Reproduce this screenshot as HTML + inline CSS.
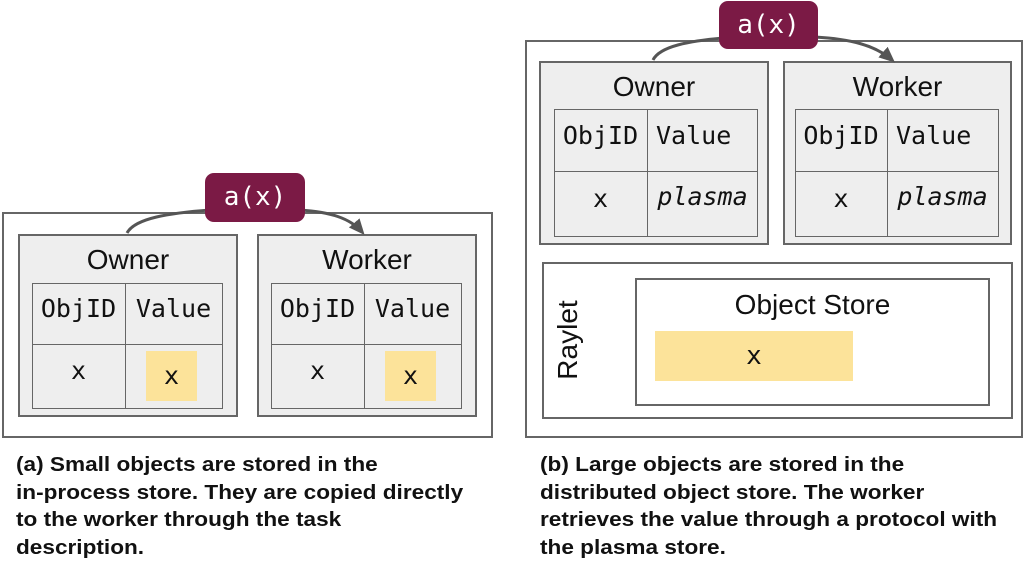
<!DOCTYPE html><html><head><style>
body{margin:0;width:1024px;height:562px;background:#fff;position:relative;overflow:hidden;font-family:"Liberation Sans",sans-serif}
.b{position:absolute;box-sizing:border-box;border:2px solid #666}
.g{background:#eee}
.t{position:absolute;text-align:center;font-size:28px;color:#111}
.m{font-family:"DejaVu Sans Mono","Liberation Mono",monospace;font-size:25px}
.pill{position:absolute;background:#7b1a45;border-radius:9px;color:#fff;font-family:"DejaVu Sans Mono",monospace;font-size:26px;text-align:center}
.y{position:absolute;background:#fce39a}
.cap{position:absolute;font-weight:bold;font-size:20px;line-height:27.5px;color:#111;transform:scaleX(1.13);transform-origin:0 0;white-space:nowrap}
</style></head><body>
<svg style="position:absolute;left:0;top:0" width="1024" height="562">
<defs><marker id="a" markerWidth="16" markerHeight="14" refX="12" refY="7" orient="auto" markerUnits="userSpaceOnUse"><path d="M0,0 L16,7 L0,14z" fill="#555"/></marker></defs>
</svg>
<!-- left -->
<div class="b" style="left:2px;top:212px;width:491px;height:226px"></div>
<div class="b g" style="left:18px;top:234px;width:220px;height:183px"></div>
<div class="b g" style="left:257px;top:234px;width:220px;height:183px"></div>
<div class="t" style="left:18px;top:244px;width:220px">Owner</div>
<div class="t" style="left:257px;top:244px;width:220px">Worker</div>
<div class="b" style="left:32px;top:283px;width:191px;height:126px;border-width:1px"></div>
<div class="b" style="left:32px;top:344px;width:191px;height:1px;border-width:1px 0 0"></div>
<div class="b" style="left:125px;top:283px;width:1px;height:126px;border-width:0 0 0 1px"></div>
<div class="b" style="left:271px;top:283px;width:191px;height:126px;border-width:1px"></div>
<div class="b" style="left:271px;top:344px;width:191px;height:1px;border-width:1px 0 0"></div>
<div class="b" style="left:364px;top:283px;width:1px;height:126px;border-width:0 0 0 1px"></div>
<div class="y" style="left:146px;top:351px;width:51px;height:50px"></div>
<div class="y" style="left:385px;top:351px;width:51px;height:50px"></div>
<div class="t m" style="left:32px;top:294px;width:93px">ObjID</div>
<div class="t m" style="left:125px;top:294px;width:97px">Value</div>
<div class="t m" style="left:32px;top:356px;width:93px">x</div>
<div class="t m" style="left:146px;top:361px;width:51px">x</div>
<div class="t m" style="left:271px;top:294px;width:93px">ObjID</div>
<div class="t m" style="left:364px;top:294px;width:97px">Value</div>
<div class="t m" style="left:271px;top:356px;width:93px">x</div>
<div class="t m" style="left:385px;top:361px;width:51px">x</div>
<!-- right -->
<div class="b" style="left:525px;top:40px;width:498px;height:398px"></div>
<div class="b g" style="left:539px;top:61px;width:230px;height:184px"></div>
<div class="b g" style="left:783px;top:61px;width:229px;height:184px"></div>
<div class="t" style="left:539px;top:71px;width:230px">Owner</div>
<div class="t" style="left:783px;top:71px;width:229px">Worker</div>
<div class="b" style="left:554px;top:109px;width:204px;height:128px;border-width:1px"></div>
<div class="b" style="left:554px;top:171px;width:204px;height:1px;border-width:1px 0 0"></div>
<div class="b" style="left:647px;top:109px;width:1px;height:128px;border-width:0 0 0 1px"></div>
<div class="b" style="left:795px;top:109px;width:204px;height:128px;border-width:1px"></div>
<div class="b" style="left:795px;top:171px;width:204px;height:1px;border-width:1px 0 0"></div>
<div class="b" style="left:887px;top:109px;width:1px;height:128px;border-width:0 0 0 1px"></div>
<div class="t m" style="left:554px;top:121px;width:93px">ObjID</div>
<div class="t m" style="left:647px;top:121px;width:100px;text-align:left;padding-left:9px">Value</div>
<div class="t m" style="left:554px;top:184px;width:93px">x</div>
<div class="t m" style="left:647px;top:182px;width:111px;font-style:italic">plasma</div>
<div class="t m" style="left:795px;top:121px;width:92px">ObjID</div>
<div class="t m" style="left:887px;top:121px;width:100px;text-align:left;padding-left:9px">Value</div>
<div class="t m" style="left:795px;top:184px;width:92px">x</div>
<div class="t m" style="left:887px;top:182px;width:111px;font-style:italic">plasma</div>
<div class="b" style="left:542px;top:262px;width:471px;height:157px"></div>
<div class="b" style="left:635px;top:278px;width:355px;height:128px"></div>
<div class="t" style="left:635px;top:289px;width:355px">Object Store</div>
<div class="y" style="left:655px;top:331px;width:198px;height:50px"></div>
<div class="t m" style="left:655px;top:341px;width:198px;font-size:26px">x</div>
<div class="t" style="left:518px;top:324px;width:100px;transform:rotate(-90deg)">Raylet</div>
<svg style="position:absolute;left:0;top:0" width="1024" height="562">
<path d="M127,233 C135,218 170,213 210,210" fill="none" stroke="#555" stroke-width="3"/>
<path d="M300,210 C330,212 350,218 362,232" fill="none" stroke="#555" stroke-width="3" marker-end="url(#a)"/>
<path d="M653,60 C660,46 690,41 723,38" fill="none" stroke="#555" stroke-width="3"/>
<path d="M815,37 C850,39 875,45 892,60" fill="none" stroke="#555" stroke-width="3" marker-end="url(#a)"/>
</svg>
<div class="pill" style="left:205px;top:173px;width:100px;height:49px;line-height:49px">a(x)</div>
<div class="pill" style="left:719px;top:1px;width:99px;height:48px;line-height:48px">a(x)</div>
<div class="cap" style="left:16px;top:452px">(a) Small objects are stored in the<br>in-process store. They are copied directly<br>to the worker through the task<br>description.</div>
<div class="cap" style="left:540px;top:452px">(b) Large objects are stored in the<br>distributed object store. The worker<br>retrieves the value through a protocol with<br>the plasma store.</div>
</body></html>
